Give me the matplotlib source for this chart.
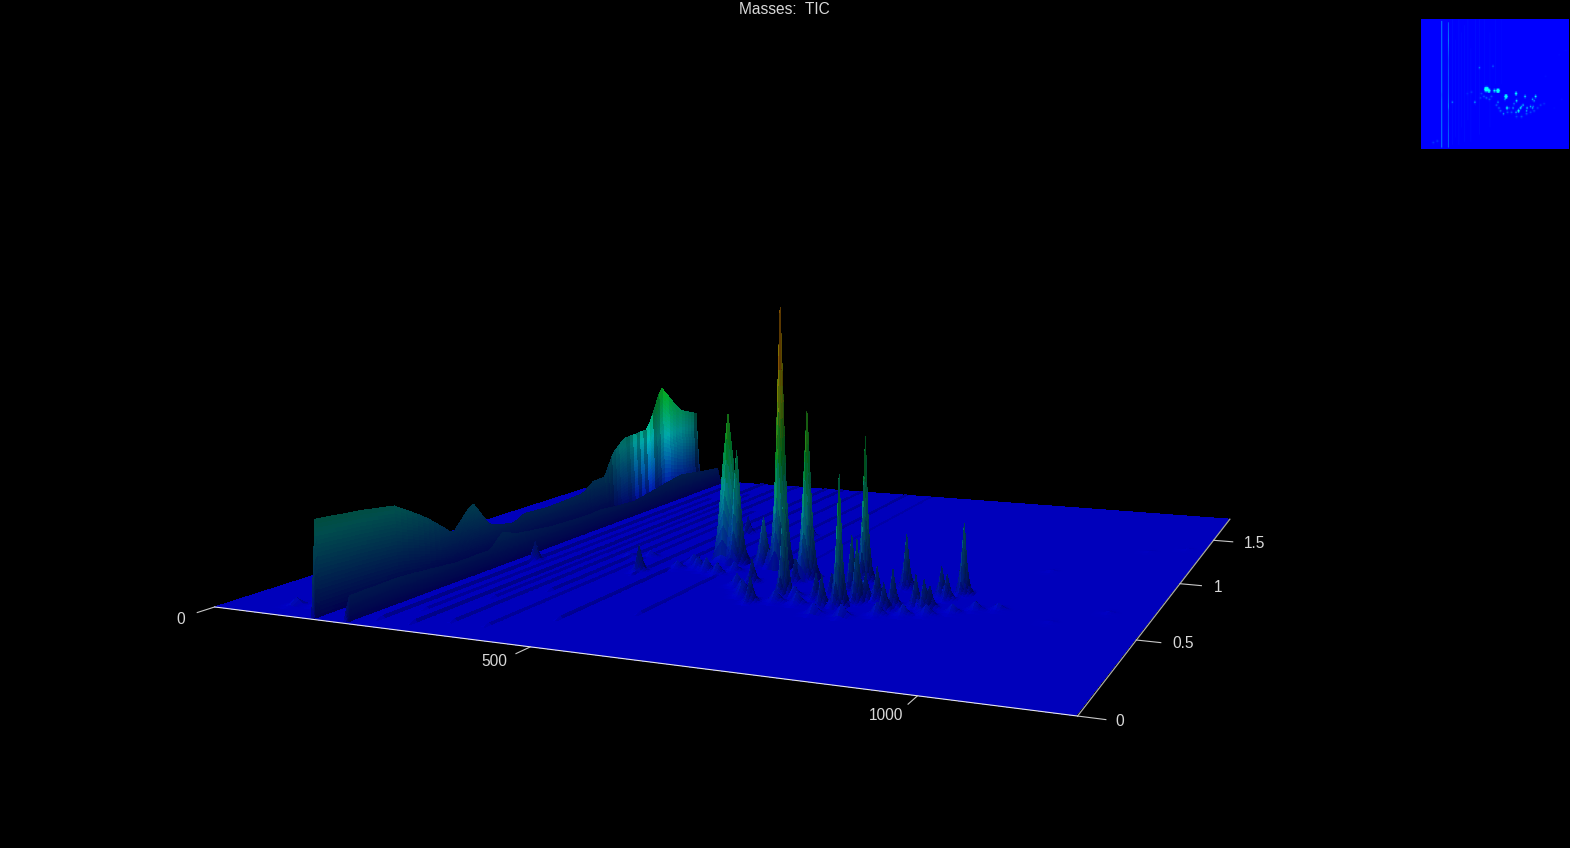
import numpy as np
import matplotlib
matplotlib.use("Agg")
import matplotlib.pyplot as plt
from matplotlib.colors import LinearSegmentedColormap

# spikes: position on the floor and height
peak_x = [613, 685, 676, 520, 541, 777, 756, 827, 912, 791, 762, 812, 845, 872, 887, 888, 900, 838, 583, 611, 655, 463, 571, 756, 732, 799, 741, 669, 891, 428, 246]
peak_y = [0.79, 0.56, 0.71, 0.82, 0.80, 0.53, 0.76, 0.71, 0.73, 0.55, 0.66, 0.60, 0.56, 0.58, 0.57, 0.68, 0.66, 0.53, 0.81, 0.63, 0.48, 1.12, 1.15, 0.50, 0.56, 0.59, 0.62, 0.67, 0.59, 0.65, 0.63]
peak_z = [0.678, 0.257, 0.424, 0.391, 0.301, 0.312, 0.364, 0.134, 0.174, 0.152, 0.137, 0.081, 0.088, 0.076, 0.071, 0.073, 0.061, 0.067, 0.129, 0.059, 0.061, 0.049, 0.038, 0.076, 0.061, 0.069, 0.049, 0.059, 0.052, 0.066, 0.051]
peak_wide = [1, 0, 1, 2, 1, 0, 0, 0, 0, 0, 0, 0, 0, 0, 0, 0, 0, 0, 1, 0, 0, 0, 0, 0, 0, 0, 0, 0, 0, 0, 0]

# low bumps around the foot of the spikes and dark dots on the flat part
bump_x = [480, 500, 470, 520, 545, 560, 600, 620, 630, 690, 700, 720, 760, 800, 840, 870, 900, 930, 950, 980, 400, 370, 95, 130, 990, 1120, 1100, 1060, 1150]
bump_y = [0.75, 0.72, 0.70, 0.70, 0.68, 0.72, 0.60, 0.55, 0.52, 0.50, 0.55, 0.50, 0.45, 0.45, 0.48, 0.50, 0.52, 0.55, 0.60, 0.62, 0.78, 0.75, 0.08, 0.10, 1.00, 0.68, 1.30, 0.55, 1.35]
bump_z = [0.025, 0.03, 0.02, 0.035, 0.03, 0.025, 0.03, 0.03, 0.035, 0.03, 0.025, 0.03, 0.025, 0.03, 0.03, 0.025, 0.025, 0.02, 0.02, 0.015, 0.018, 0.012, 0.018, 0.018, 0.004, 0.004, 0.003, 0.003, 0.003]

# the two long walls, one height per y row (0.02 apart)
wall1_x = 163
wall1_z = [0, 227, 226, 225, 224, 222, 221, 220, 219, 217, 215, 213, 211, 209, 207, 198, 189, 180, 171, 161, 151, 139, 127, 115, 102, 97, 113, 129, 145, 153, 132, 111, 89, 81, 78, 74, 71, 68, 71, 77, 84, 83, 82, 82, 81, 80, 80, 81, 81, 82, 83, 84, 85, 86, 87, 94, 104, 113, 114, 115, 116, 142, 170, 188, 199, 210, 218, 219, 220, 221, 223, 224, 225, 242, 267, 298, 330, 346, 331, 316, 300, 285, 270, 259, 254, 249, 245, 240, 235, 0]
wall2_x = 214
wall2_z = [0, 58, 58, 59, 59, 59, 60, 60, 61, 61, 60, 59, 58, 56, 55, 54, 52, 51, 50, 48, 48, 48, 48, 49, 49, 49, 49, 59, 74, 84, 79, 74, 69, 67, 65, 63, 62, 60, 58, 56, 55, 55, 54, 53, 53, 52, 52, 51, 51, 51, 52, 53, 53, 52, 51, 49, 48, 47, 46, 45, 44, 43, 46, 48, 50, 53, 55, 57, 60, 62, 65, 67, 69, 72, 74, 75, 74, 72, 70, 69, 67, 65, 63, 62, 60, 58, 57, 55, 0, 0]
# brighter stripes on the far end of wall 1, rows 62 to 89
wall1_shine = [1.2, 1.3, 1.4, 1.4, 1.3, 1.5, 2.0, 1.5, 2.2, 1.6, 2.4, 2.2, 1.4, 1.5, 1.9, 2.2, 2.2, 2.0, 1.9, 1.8, 1.8, 1.7, 1.6, 1.5, 1.4, 0.9, 1.2, 1.2]

# thin dark lines along y on the floor
streak_x = [250, 272, 300, 318, 345, 372, 395, 430, 462, 505, 548, 590, 640]
streak_y0 = [0.05, 0.15, 0.05, 0.3, 0.1, 0.4, 0.1, 0.6, 0.2, 0.8, 0.3, 0.9, 0.9]
streak_y1 = [1.79, 1.5, 1.79, 1.6, 1.7, 1.79, 1.4, 1.79, 1.79, 1.79, 1.6, 1.79, 1.79]
streak_z = [0.007, 0.005, 0.007, 0.005, 0.006, 0.006, 0.005, 0.006, 0.006, 0.005, 0.005, 0.005, 0.003]

# spike cross sections, read from the widest spikes
x_shapes = [[0.04, 0.15, 0.45, 1, 0.45, 0.15, 0.04],
            [0.05, 0.15, 0.35, 0.7, 1, 0.7, 0.35, 0.15, 0.05],
            [0.05, 0.2, 0.5, 0.7, 0.85, 1, 0.85, 0.7, 0.5, 0.2, 0.05]]
y_shapes = [[0.2, 1, 0.2], [0.3, 1, 0.3], [0.06, 0.45, 1, 0.45, 0.06]]

x_ticks = [0, 500, 1000]
y_ticks = [0, 0.5, 1, 1.5]

xmax, ymax = 1178.2, 1.7928
dx, dy = 4, 0.02

xs = np.arange(0, xmax, dx)
ys = np.r_[np.arange(90) * dy, ymax]
Z = np.zeros((len(ys), len(xs)))


def stamp(x, y, h, xp, yp):
    cx, cy = int(round(x / dx)), int(round(y / dy))
    for i, a in enumerate(xp):
        for j, b in enumerate(yp):
            c = cx + i - len(xp) // 2
            r = cy + j - len(yp) // 2
            Z[r, c] = max(Z[r, c], h * a * b)


for x, y0, y1, h in zip(streak_x, streak_y0, streak_y1, streak_z):
    Z[(ys >= y0) & (ys <= y1), int(round(x / dx))] = h
Z[:90, int(round(wall1_x / dx))] = np.array(wall1_z) / 1000
Z[:90, int(round(wall2_x / dx))] = np.array(wall2_z) / 1000
for x, y, h in zip(bump_x, bump_y, bump_z):
    stamp(x, y, h, x_shapes[1], y_shapes[0])
for x, y, h, w in zip(peak_x, peak_y, peak_z, peak_wide):
    stamp(x, y, h, x_shapes[w], y_shapes[w])

cmap = LinearSegmentedColormap.from_list('bcgyr', [(0, '#0000ff'), (0.27, '#00ffff'), (0.45, '#00ff40'), (0.72, '#ffff00'), (1, '#ff0000')])
inset_cmap = LinearSegmentedColormap.from_list('bc', ['#0000ff', '#00ffff'])


# extra mesh lines so the colour can change along a steep face
def split(v, start, stop, n):
    out = []
    for a, b in zip(v[:-1], v[1:]):
        if a >= start and b <= stop:
            out.append(np.linspace(a, b, n, endpoint=False))
        else:
            out.append([a])
    return np.r_[np.concatenate(out), v[-1]]


xf = split(xs, 440, 960, 4)
wall_cols = [int(round(v / dx)) for v in (wall1_x, wall2_x)]
for c in wall_cols:
    xf = split(xf, c * dx, (c + 1) * dx, 24)
yf = split(split(ys, 0.44, 0.88, 4), 0, 0.02, 8)
yf = split(yf, ys[88], ymax, 6)

Zf = np.array([np.interp(xf, xs, row) for row in Z])
Zf = np.array([np.interp(yf, ys, col) for col in Zf.T]).T

# face colour from mean height, darkened by a light in front of the surface
W, H = 1570, 848
box = (1.0237, 1, 0.5)
X, Y = np.meshgrid(xf, yf)
zq = (Zf[:-1, :-1] + Zf[1:, :-1] + Zf[:-1, 1:] + Zf[1:, 1:]) / 4
wx = np.diff(xf)[None, :] / xmax * box[0]
wy = np.diff(yf)[:, None] / ymax * box[1]
gx = ((Zf[:-1, 1:] - Zf[:-1, :-1]) + (Zf[1:, 1:] - Zf[1:, :-1])) / 2 * box[2] / wx
gy = ((Zf[1:, :-1] - Zf[:-1, :-1]) + (Zf[1:, 1:] - Zf[:-1, 1:])) / 2 * box[2] / wy
nn = np.sqrt(gx ** 2 + gy ** 2 + 1)
light = np.array([-0.2, -0.4, 0.87])
dot = (-gx * light[0] - gy * light[1] + light[2]) / nn
shade = np.clip(0.3 + 0.5 * np.clip(dot, 0, 1), 0, 1)

# stripes on wall 1
row_of = np.searchsorted(ys, yf[:-1], side='right') - 1
shine = np.ones(len(ys))
shine[62:90] = wall1_shine
in_wall1 = (xf[:-1] >= wall_cols[0] * dx) & (xf[1:] <= (wall_cols[0] + 1) * dx)
shade[:, in_wall1] *= shine[row_of][:, None]

colors = cmap(np.clip(zq / 0.72, 0, 1))
colors[..., :3] = np.clip(colors[..., :3] * shade[..., None], 0, 1)

# far side of the walls is never seen, leave it out so it can't show through
for c in wall_cols:
    behind = (xf[:-1] >= (c - 1) * dx) & (xf[1:] <= c * dx)
    colors[:, behind, 3] = 0

fig = plt.figure(figsize=(W / 100, H / 100), dpi=100, facecolor='black')
ax = fig.add_axes([0, 0, 1, 1], projection='3d', computed_zorder=False, facecolor='black')
ax.view_init(elev=5.9616, azim=-66.5525, roll=0.1284)
ax.set_proj_type('persp', focal_length=0.2628)
ax.set_box_aspect(box)
ax.set_xlim3d(0, xmax, view_margin=0)
ax.set_ylim3d(0, ymax, view_margin=0)
ax.set_zlim3d(0, 1, view_margin=0)
ax.set_axis_off()

# place the axes so the floor lands where it is in the picture
scale, ox, oy = 6027.9, 782.7, 371.7
vl = ax.viewLim
size = scale * vl.width
ax.set_position([(ox + scale * vl.x0) / W, 1 - (oy - scale * vl.y0) / H, size / W, scale * vl.height / H])

ax.plot_surface(X, Y, Zf, facecolors=colors, rstride=1, cstride=1, linewidth=0, antialiased=False, shade=False, zorder=1)

ax.plot([0, xmax], [0, 0], [0, 0], color='#e8e8e8', lw=0.8, zorder=3, clip_on=False)
ax.plot([xmax, xmax], [0, ymax], [0, 0], color='#a8a8a8', lw=0.9, zorder=3, clip_on=False)
for t in x_ticks:
    ax.plot([t, t], [0, -0.05], [0, 0], color='#c8c8c8', lw=0.8, zorder=3, clip_on=False)
for t in y_ticks:
    ax.plot([xmax, xmax + 30], [t, t], [0, 0], color='#c8c8c8', lw=0.8, zorder=3, clip_on=False)

font = dict(color='#d8d8d8', fontsize=11.2, family='Liberation Sans', ha='center', va='center')
for txt, px, py in zip(['0', '500', '1000'], [181, 494, 886], [620, 662, 716]):
    fig.text(px / W, 1 - py / H, txt, **font)
for txt, px, py in zip(['0', '0.5', '1', '1.5'], [1120, 1183, 1218, 1255], [721, 644, 587, 543]):
    fig.text(px / W, 1 - py / H, txt, **font)
fig.text(784 / W, 1 - 10 / H, 'Masses:  TIC', **font)

# small top view in the corner
inset = fig.add_axes([1421 / W, 1 - 149.5 / H, 148 / W, 130.5 / H])
inset.imshow(Z, origin='lower', aspect='auto', cmap=inset_cmap, vmin=0, vmax=0.08)
inset.set_axis_off()

fig.savefig('out.png', dpi=100, facecolor='black')
